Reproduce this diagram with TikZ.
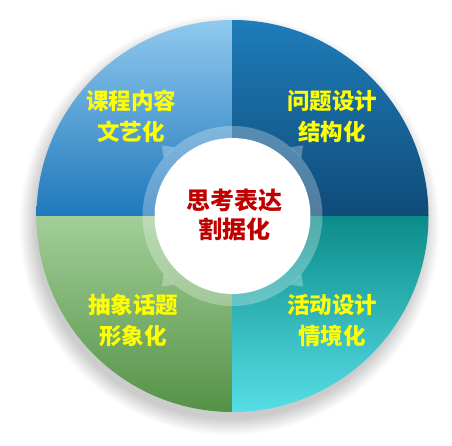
\documentclass[tikz,border=0pt]{standalone}
\usepackage{fontspec}
\newfontfamily\cjk{Noto Sans CJK SC}
\usetikzlibrary{calc}
\definecolor{lblY}{HTML}{FFFF00}
\definecolor{ctrR}{HTML}{C00000}
\definecolor{tlA}{HTML}{90C9EE}
\definecolor{tlB}{HTML}{1F78BC}
\definecolor{trA}{HTML}{1F7DBA}
\definecolor{trB}{HTML}{0F4B78}
\definecolor{blA}{HTML}{A3CE98}
\definecolor{blB}{HTML}{549247}
\definecolor{brA}{HTML}{0C8C89}
\definecolor{brB}{HTML}{56DEE6}
\begin{document}
\begin{tikzpicture}[x=1pt,y=1pt,
  lbl/.style={font=\cjk\bfseries\fontsize{22.5}{31}\selectfont, text=lblY, align=center, inner sep=0pt},
  ctr/.style={font=\cjk\bfseries\fontsize{24}{29}\selectfont, text=ctrR, align=center, inner sep=0pt},
  ringfill/.style={fill=white, fill opacity=0.28}]
\useasboundingbox (0,0) rectangle (452,445);
\fill[white] (0,0) rectangle (452,445);
\coordinate (C) at (232.5,229);
% soft shadow
\foreach \i in {0,...,16}{
  \fill[black, opacity=0.012] ($(C)+(-3,-9)$) circle ({194+16-\i});
}
% quadrants
\shade[shading angle=-45, top color=tlA, bottom color=tlB]
  (C) -- ++(-196,0) arc[start angle=180, end angle=90, radius=196] -- cycle;
\shade[shading angle=45, top color=trA, bottom color=trB]
  (C) -- ++(0,196) arc[start angle=90, end angle=0, radius=196] -- cycle;
\shade[shading angle=45, top color=blA, bottom color=blB]
  (C) -- ++(0,-196) arc[start angle=270, end angle=180, radius=196] -- cycle;
\shade[shading angle=-45, top color=brA, bottom color=brB]
  (C) -- ++(196,0) arc[start angle=0, end angle=-90, radius=196] -- cycle;
% ring and pointers
\fill[ringfill, even odd rule] (C) circle (90) (C) circle (78);
\foreach \a in {45,135,225,315}{
  \fill[ringfill] ($(C)+(\a:100)$) -- ($(C)+(\a+5:89.8)$) -- ($(C)+(\a-5:89.8)$) -- cycle;
}
% centre disc
\fill[white] (C) circle (78);
% labels
\node[ctr] (centre) at (234.5,230) {思考表达\\割据化};
\node[lbl] (tl) at (131,329) {课程内容\\文艺化};
\node[lbl] (tr) at (332,329) {问题设计\\结构化};
\node[lbl] (bl) at (133,125) {抽象话题\\形象化};
\node[lbl] (br) at (332,125) {活动设计\\情境化};
\end{tikzpicture}
\end{document}
